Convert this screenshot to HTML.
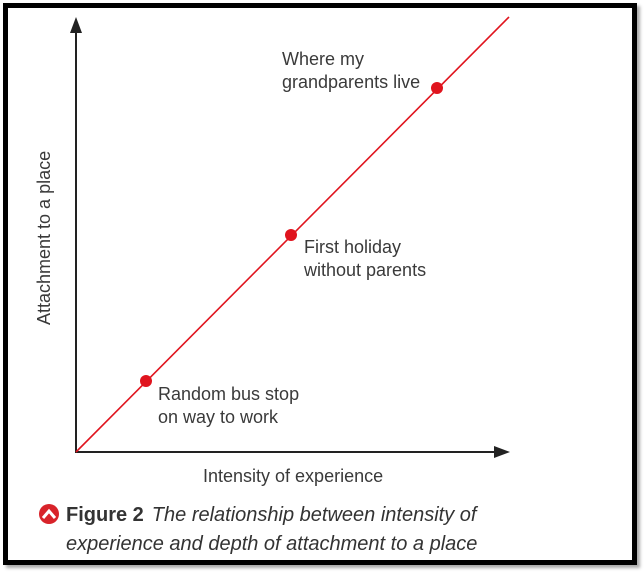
<!DOCTYPE html>
<html><head><style>
body{margin:0;width:644px;height:572px;background:#fff;position:relative;overflow:hidden;font-family:"Liberation Sans",sans-serif}
.frame{position:absolute;left:3px;top:3px;width:624px;height:552px;border:5px solid #000;box-shadow:3px 3px 3px #aaa}
</style></head><body>
<div class="frame"></div>
<svg width="644" height="572" style="position:absolute;left:0;top:0">
<line x1="76" y1="453" x2="76" y2="30" stroke="#222" stroke-width="2"/>
<polygon points="76,17 70,33 82,33" fill="#222"/>
<line x1="75" y1="452" x2="496" y2="452" stroke="#222" stroke-width="2"/>
<polygon points="510,452 494,446 494,458" fill="#222"/>
<line x1="76" y1="452" x2="509" y2="17" stroke="#e0141e" stroke-width="1.6"/>
<circle cx="146" cy="381" r="6" fill="#e0141e"/>
<circle cx="291" cy="235" r="6" fill="#e0141e"/>
<circle cx="437" cy="88" r="6" fill="#e0141e"/>
<g font-family="Liberation Sans, sans-serif" font-size="18" fill="#3a3a3a">
<text x="282" y="65">Where my</text>
<text x="282" y="88">grandparents live</text>
<text x="304" y="253">First holiday</text>
<text x="304" y="276">without parents</text>
<text x="158" y="400">Random bus stop</text>
<text x="158" y="423">on way to work</text>
<text x="203" y="482">Intensity of experience</text>
<text transform="translate(50,325) rotate(-90)">Attachment to a place</text>
</g>
<circle cx="49" cy="514" r="10" fill="#d8232a"/>
<polyline points="43,518 49,511 55,518" fill="none" stroke="#fff" stroke-width="3"/>
<g font-family="Liberation Sans, sans-serif" font-size="20" fill="#333">
<text x="66" y="521"><tspan font-weight="bold">Figure 2</tspan><tspan font-style="italic" dx="8">The relationship between intensity of</tspan></text>
<text x="66" y="550" font-style="italic">experience and depth of attachment to a place</text>
</g>
</svg>
</body></html>
